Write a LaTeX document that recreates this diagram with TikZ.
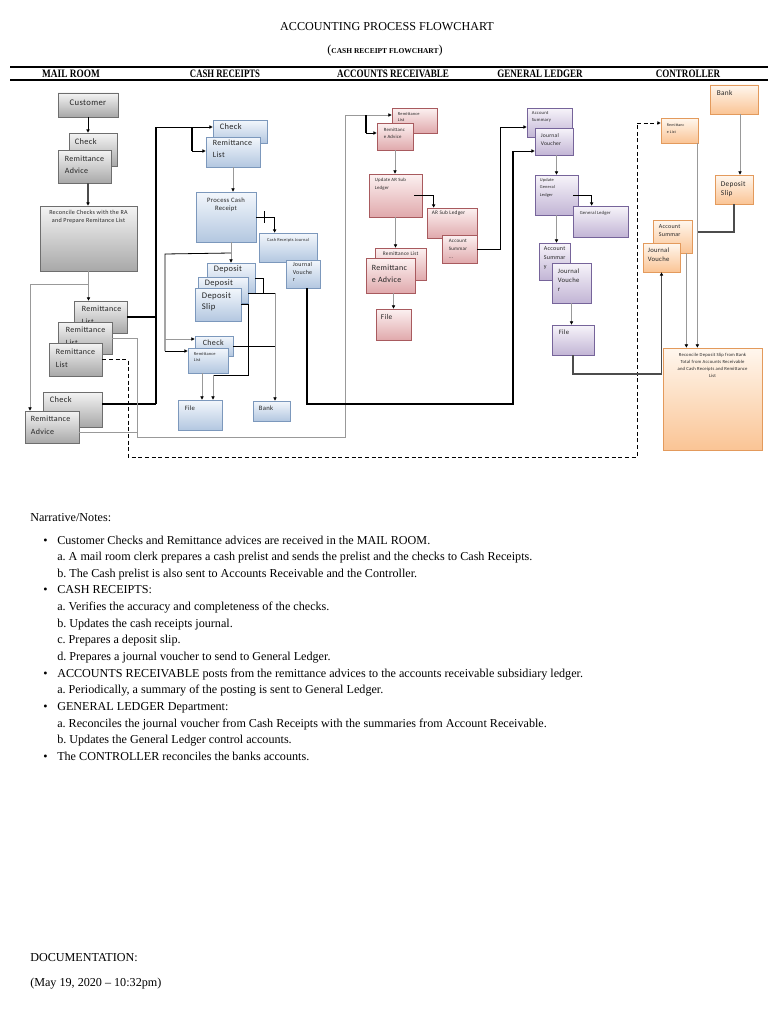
\documentclass[tikz,border=0pt]{standalone}
\usepackage{fontspec}
\setmainfont{Liberation Serif}
\newfontfamily\calf[LetterSpace=4]{Carlito}
\usetikzlibrary{fit,shadows,arrows.meta,calc}
\newcommand\fs[2]{\calf\fontsize{#1}{#2}\selectfont}
\newcommand\bx[7]{\node[#1, fit={(#3)(#4)}, label={[lt,#5]#6:{#7}}] (#2) {};}
\definecolor{gT}{HTML}{F4F4F4}\definecolor{gB}{HTML}{A8A8A8}\definecolor{gD}{HTML}{6E6E6E}
\definecolor{bT}{HTML}{F3F7FC}\definecolor{bB}{HTML}{B3C7E0}\definecolor{bD}{HTML}{7C98BC}
\definecolor{rT}{HTML}{FCF1F1}\definecolor{rB}{HTML}{E0A9AC}\definecolor{rD}{HTML}{A85A5E}
\definecolor{pT}{HTML}{F7F4FA}\definecolor{pB}{HTML}{C2B5D5}\definecolor{pD}{HTML}{76649A}
\definecolor{oT}{HTML}{FFF7EE}\definecolor{oB}{HTML}{FAC495}\definecolor{oD}{HTML}{E39A5C}
\tikzset{
  bxs/.style={draw, line width=0.55pt, inner sep=0pt,
    drop shadow={shadow xshift=0.7pt, shadow yshift=-0.7pt, fill=black, opacity=0.25}},
  gbox/.style={bxs, draw=gD, top color=gT, bottom color=gB},
  bbox/.style={bxs, draw=bD, top color=bT, bottom color=bB},
  rbox/.style={bxs, draw=rD, top color=rT, bottom color=rB},
  pbox/.style={bxs, draw=pD, top color=pT, bottom color=pB},
  obox/.style={bxs, draw=oD, top color=oT, bottom color=oB},
  lt/.style={anchor=north west, inner sep=0pt, align=left, text=black!85},
  ar/.style={-{Triangle[length=2.4pt,width=2.4pt,color=black]}},
  gl/.style={draw=black!40, line width=0.45pt},
  dk/.style={draw=black!70, line width=0.9pt},
  bl/.style={draw=black, line width=0.6pt},
  blt/.style={draw=black, line width=0.9pt},
  tk/.style={draw=black, line width=1.3pt},
  dsh/.style={draw=black, line width=0.6pt, dash pattern=on 3pt off 2pt},
  nt/.style={anchor=base west, inner sep=0pt, font=\fontsize{9.1}{12}\selectfont},
  hd/.style={inner sep=0pt, font=\fontsize{8.5}{10}\selectfont\bfseries},
}
\begin{document}
\begin{tikzpicture}[x=0.75pt,y=-0.75pt]
\useasboundingbox (0,0) rectangle (768,1024);
\fill[white] (0,0) rectangle (768,1024);

% ---------- header ----------
\node[inner sep=0pt, font=\fontsize{9.1}{11}\selectfont] (title) at (387,27) {ACCOUNTING PROCESS FLOWCHART};
\node[inner sep=0pt] (subt) at (385,51) {{\fontsize{9.1}{11}\selectfont(}{\fontsize{5.6}{6}\selectfont\bfseries CASH RECEIPT FLOWCHART}{\fontsize{9.1}{11}\selectfont)}};
\coordinate (h1) at (10,67); \coordinate (h2) at (768,67);
\coordinate (h3) at (10,80); \coordinate (h4) at (768,80);
\draw[line width=1.1pt] (h1) -- (h2);
\draw[line width=1.1pt] (h3) -- (h4);
\node[hd] (hmr) at (71,73.5) {\scalebox{0.82}[1]{MAIL ROOM}};
\node[hd] (hcr) at (225,73.5) {\scalebox{0.77}[1]{CASH RECEIPTS}};
\node[hd] (har) at (393,73.5) {\scalebox{0.8}[1]{ACCOUNTS RECEIVABLE}};
\node[hd] (hgl) at (540,73.5) {\scalebox{0.8}[1]{GENERAL LEDGER}};
\node[hd] (hct) at (688,73.5) {\scalebox{0.8}[1]{CONTROLLER}};

% ---------- mail room ----------
\bx{gbox}{cust}{58,93}{118,117}{anchor=north,align=center,yshift=-5.2pt,font=\fs{6.5}{8}}{north}{Customer}
\bx{gbox}{chkm}{69,133}{117,166}{xshift=4.5pt,yshift=-4.5pt,font=\fs{6.3}{9}}{north west}{Check}
\bx{gbox}{ram}{58,150}{111,183}{xshift=5.2pt,yshift=-4.6pt,font=\fs{6}{9}}{north west}{Remittance\\Advice}
\bx{gbox}{recm}{40,206}{137,271}{anchor=north,align=center,yshift=-2.9pt,font=\fs{4.6}{6}}{north}{Reconcile Checks with the RA\\and Prepare Remitance List}
\bx{gbox}{rl1}{74,301}{127,333}{xshift=6pt,yshift=-3.9pt,font=\fs{6}{9.5}}{north west}{Remittance\\List}
\bx{gbox}{rl2}{58,322}{112,354}{xshift=6pt,yshift=-3.9pt,font=\fs{6}{9.5}}{north west}{Remittance\\List}
\bx{gbox}{rl3}{49,343}{102,376}{xshift=5.2pt,yshift=-4.6pt,font=\fs{6}{9.5}}{north west}{Remittance\\List}
\bx{gbox}{chkm2}{43,392}{102,427}{xshift=5.2pt,yshift=-3.8pt,font=\fs{6.3}{9}}{north west}{Check}
\bx{gbox}{ram2}{25,411}{79,443}{xshift=4.5pt,yshift=-3.9pt,font=\fs{6}{9.75}}{north west}{Remittance\\Advice}

% ---------- cash receipts ----------
\bx{bbox}{chkc}{213,120}{267,143}{xshift=5.2pt,yshift=-3pt,font=\fs{6.3}{9}}{north west}{Check}
\bx{bbox}{rlc}{206,137}{260,167}{xshift=5.2pt,yshift=-2.4pt,font=\fs{6}{9}}{north west}{Remittance\\List}
\bx{bbox}{pcr}{196,192}{256,242}{anchor=north,align=center,yshift=-4.25pt,font=\fs{5}{6}}{north}{Process Cash\\Receipt}
\bx{bbox}{crj}{259,233}{317,262}{anchor=north,align=center,yshift=-4.1pt,font=\fs{3.3}{4}}{north}{Cash Receipts Journal}
\bx{bbox}{jvc}{286,260}{320,288}{xshift=5.2pt,yshift=-2.15pt,font=\fs{4.5}{5.6}}{north west}{Journal\\Vouche\\r}
\bx{bbox}{d1}{207,263}{255,293}{xshift=5.2pt,yshift=-2.3pt,font=\fs{6.3}{8}}{north west}{Deposit}
\bx{bbox}{d2}{198,277}{248,303}{xshift=5.2pt,yshift=-2.3pt,font=\fs{6.3}{8}}{north west}{Deposit}
\bx{bbox}{d3}{195,288}{241,321}{xshift=5.2pt,yshift=-3.7pt,font=\fs{6.5}{8.3}}{north west}{Deposit\\Slip}
\bx{bbox}{chkc2}{195,336}{233,356}{xshift=6pt,yshift=-3.1pt,font=\fs{6}{8}}{north west}{Check}
\bx{bbox}{rlc2}{188,348}{228,373}{xshift=4.5pt,yshift=-3.3pt,font=\fs{3.3}{4.5}}{north west}{Remittance\\List}
\bx{bbox}{filec}{178,400}{222,430}{xshift=5.2pt,yshift=-4.25pt,font=\fs{5}{6}}{north west}{File}
\bx{bbox}{bankc}{253,401}{290,421}{xshift=4.5pt,yshift=-3.5pt,font=\fs{5}{6}}{north west}{Bank}

% ---------- accounts receivable ----------
\bx{rbox}{rla}{392,108}{437,133}{xshift=4.5pt,yshift=-3.3pt,font=\fs{3.3}{5}}{north west}{Remittance\\List}
\bx{rbox}{raa}{377,123}{413,150}{xshift=5.2pt,yshift=-4pt,font=\fs{3.6}{5.3}}{north west}{Remittanc\\e Advice}
\bx{rbox}{uar}{369,174}{422,217}{xshift=4.5pt,yshift=-3.2pt,font=\fs{3.6}{6}}{north west}{Update AR Sub\\Ledger}
\bx{rbox}{arsl}{427,208}{477,238}{xshift=3.75pt,yshift=-2.35pt,font=\fs{4}{5}}{north west}{AR Sub Ledger}
\bx{rbox}{asa}{442,235}{477,263}{xshift=5.2pt,yshift=-3.2pt,font=\fs{3.8}{6}}{north west}{Account\\Summar\\...}
\bx{rbox}{rla2}{375,248}{426,280}{xshift=6pt,yshift=-3.1pt,font=\fs{4}{5}}{north west}{Remittance List}
\bx{rbox}{raa2}{366,258}{415,293}{xshift=4.5pt,yshift=-5.4pt,font=\fs{6}{9}}{north west}{Remittanc\\e Advice}
\bx{rbox}{filea}{376,309}{411,340}{xshift=3.75pt,yshift=-4.1pt,font=\fs{5.5}{6}}{north west}{File}

% ---------- general ledger ----------
\bx{pbox}{asg}{527,108}{572,137}{xshift=3.75pt,yshift=-2.5pt,font=\fs{3.5}{5.3}}{north west}{Account\\Summary}
\bx{pbox}{jvg}{535,128}{573,155}{xshift=4.5pt,yshift=-4.5pt,font=\fs{4.2}{6}}{north west}{Journal\\Voucher}
\bx{pbox}{ugl}{535,175}{578,215}{xshift=3.75pt,yshift=-2.6pt,font=\fs{3.3}{5.6}}{north west}{Update\\General\\Ledger}
\bx{pbox}{genl}{573,206}{628,237}{xshift=5.2pt,yshift=-4pt,font=\fs{3.5}{5}}{north west}{General Ledger}
\bx{pbox}{asg2}{539,243}{570,280}{xshift=3.75pt,yshift=-2.9pt,font=\fs{4.5}{6.8}}{north west}{Account\\Summar\\y}
\bx{pbox}{jvg2}{552,263}{591,303}{xshift=4.5pt,yshift=-4.25pt,font=\fs{5}{6.8}}{north west}{Journal\\Vouche\\r}
\bx{pbox}{fileg}{552,325}{594,355}{xshift=5.2pt,yshift=-3.5pt,font=\fs{5}{6}}{north west}{File}

% ---------- controller ----------
\bx{obox}{bankk}{710,85}{758,114}{xshift=5.2pt,yshift=-4.1pt,font=\fs{5.5}{6}}{north west}{Bank}
\bx{obox}{rlk}{661,118}{698,143}{xshift=4.5pt,yshift=-4.2pt,font=\fs{3}{5.3}}{north west}{Remittanc\\e List}
\bx{obox}{dsk}{715,175}{753,204}{xshift=4.5pt,yshift=-4.85pt,font=\fs{5.5}{6.8}}{north west}{Deposit\\Slip}
\bx{obox}{ask}{653,220}{692,253}{xshift=4.5pt,yshift=-3.65pt,font=\fs{4.5}{6}}{north west}{Account\\Summar}
\bx{obox}{jvk}{643,243}{680,272}{xshift=3.75pt,yshift=-3.5pt,font=\fs{5}{6.8}}{north west}{Journal\\Vouche}
\bx{obox}{reck}{663,348}{762,450}{anchor=north,align=center,yshift=-4pt,font=\fs{3.5}{5.3}}{north}{Reconcile Deposit Slip from Bank\\Total from Accounts Receivable\\and Cash Receipts and Remittance\\List}

% ---------- coordinates ----------
\coordinate (k1) at (88.5,284); \coordinate (k2) at (30,284);
\coordinate (bt) at (156,127); \coordinate (bb) at (156,404);
\coordinate (bs) at (192,127); \coordinate (bs2) at (192,151);
\coordinate (r1) at (137,437); \coordinate (r2) at (345,437); \coordinate (r3) at (345,115);
\coordinate (r4) at (366,115); \coordinate (r5) at (366,133);
\coordinate (s1) at (128,457); \coordinate (s2) at (637,457); \coordinate (s3) at (637,123);
\coordinate (p1) at (231,253); \coordinate (p2) at (165,254); \coordinate (p3) at (165,351); \coordinate (p4) at (165,339);
\coordinate (q1) at (263,293); \coordinate (q2) at (275,293);
\coordinate (q3) at (248,375); \coordinate (q4) at (213,375); \coordinate (q5) at (202,373);
\coordinate (j1) at (307,404); \coordinate (j2) at (440,404); \coordinate (j3) at (513,404); \coordinate (j4) at (513,151);
\coordinate (a1) at (500,127);
\coordinate (g1) at (661.5,374);
\coordinate (t1) at (697,232);
\coordinate (u1) at ([xshift=-0.75pt]rlk.south east);
\coordinate (u2) at ([xshift=-4.5pt]ask.south east);

% ---------- mail room connectors ----------
\draw[bl,ar] (cust.south) -- (cust.south |- chkm.north);
\draw[dk,ar] (ram.south -| cust.south) -- (recm.north -| cust.south);
\draw[gl,ar] (recm.south) -- (recm.south |- rl1.north);
\draw[gl] (k1) -- (k2);
\draw[gl,ar] (k2) -- (k2 |- ram2.north);
\draw[tk] (rl1.east) -- (rl1.east -| bt);
\draw[tk] (bt) -- (bb);
\draw[tk] (chkm2.east |- bb) -- (bb);
\draw[bl,ar] (bt) -- (bt -| chkc.west);
\draw[tk] (bs) -- (bs2);
\draw[bl,ar] (bs2) -- (bs2 -| rlc.west);
\draw[gl] (rl2.east) -| (r1) -- (r2) -- (r3);
\draw[gl] ([yshift=-3.75pt]ram2.east) -- ([yshift=-3.75pt]ram2.east -| r1);
\draw[gl,ar] (r3) -- (r3 -| rla.west);
\draw[blt] (r4) -- (r5);
\draw[bl,ar] (r5) -- (r5 -| raa.west);
\draw[dsh] (rl3.east) -| (s1) -- (s2) -- (s3);
\draw[dsh,ar] (s3) -- (s3 -| rlk.west);

% ---------- cash receipts connectors ----------
\draw[gl,ar] (rlc.south) -- (rlc.south |- pcr.north);
\draw[bl,ar] (pcr.east) -| ($(crj.north west)+(16,0)$);
\draw[bl] ($(pcr.east)+(8,-6)$) -- ++(0,12);
\draw[gl,ar] (d1.north |- pcr.south) -- (d1.north);
\draw[bl] (p1) -- (p2) -- (p3);
\draw[bl,ar] (p3) -- (p3 -| rlc2.west);
\draw[gl,ar] (p4) -- (p4 -| chkc2.west);
\draw[bl] (d1.east) -| (q1);
\draw[bl] (q1 -| d2.east) -- (q2);
\draw[gl,ar] (q2) -- (q2 |- bankc.north);
\draw[bl] (chkc2.east) -- (chkc2.east -| q2);
\draw[bl] (d3.east) -| (q3) -- (q4);
\draw[gl,ar] (q4) -- (q4 |- filec.north);
\draw[gl,ar] (q5) -- (q5 |- filec.north);
\draw[tk] (jvc.south -| j1) -- (j1) -- (j2);
\draw[blt] (j2) -- (j3) -- (j4);
\draw[bl,ar] (j4) -- (j4 -| jvg.west);

% ---------- accounts receivable connectors ----------
\draw[gl,ar] (raa.south) -- (raa.south |- uar.north);
\draw[bl,ar] ($(uar.east)+(-8,0)$) -| ($(arsl.north west)+(7,0)$);
\draw[gl,ar] (uar.south) -- (uar.south |- rla2.north);
\draw[bl] (asa.east) -| (a1);
\draw[bl,ar] (a1) -- (a1 -| asg.west);
\draw[gl,ar] (filea.north |- raa2.south) -- (filea.north);

% ---------- general ledger connectors ----------
\draw[gl,ar] (ugl.north |- jvg.south) -- (ugl.north);
\draw[bl,ar] ($(ugl.east)+(-5,0)$) -| ($(genl.north west)+(19,0)$);
\draw[gl,ar] (ugl.south) -- (ugl.south |- asg2.north);
\draw[gl,ar] (jvg2.south) -- (jvg2.south |- fileg.north);
\draw[dk] (fileg.south) |- (g1);
\draw[dk,ar] (g1) -- (jvk.south);

% ---------- controller connectors ----------
\draw[gl,ar] ([xshift=4.5pt]bankk.south) -- ([xshift=4.5pt]dsk.north);
\draw[dk] (dsk.south) |- (t1);
\draw[gl,ar] (u1) -- (u1 |- reck.north);
\draw[gl,ar] (u2) -- (u2 |- reck.north);

% ---------- notes ----------
\node[nt] (nn) at (30,521) {Narrative/Notes:};
\node[nt] (b1) at (43,544) {•};
\node[nt] (n1) at (57,544) {Customer Checks and Remittance advices are received in the MAIL ROOM.};
\node[nt] (n2) at (57,560.65) {a.\ A mail room clerk prepares a cash prelist and sends the prelist and the checks to Cash Receipts.};
\node[nt] (n3) at (57,577.3) {b.\ The Cash prelist is also sent to Accounts Receivable and the Controller.};
\node[nt] (b2) at (43,593.95) {•};
\node[nt] (n4) at (57,593.95) {CASH RECEIPTS:};
\node[nt] (n5) at (57,610.6) {a.\ Verifies the accuracy and completeness of the checks.};
\node[nt] (n6) at (57,627.25) {b.\ Updates the cash receipts journal.};
\node[nt] (n7) at (57,643.9) {c.\ Prepares a deposit slip.};
\node[nt] (n8) at (57,660.55) {d.\ Prepares a journal voucher to send to General Ledger.};
\node[nt] (b3) at (43,677.2) {•};
\node[nt] (n9) at (57,677.2) {ACCOUNTS RECEIVABLE posts from the remittance advices to the accounts receivable subsidiary ledger.};
\node[nt] (n10) at (57,693.85) {a.\ Periodically, a summary of the posting is sent to General Ledger.};
\node[nt] (b4) at (43,710.5) {•};
\node[nt] (n11) at (57,710.5) {GENERAL LEDGER Department:};
\node[nt] (n12) at (57,727.15) {a.\ Reconciles the journal voucher from Cash Receipts with the summaries from Account Receivable.};
\node[nt] (n13) at (57,743.8) {b.\ Updates the General Ledger control accounts.};
\node[nt] (b5) at (43,760.45) {•};
\node[nt] (n14) at (57,760.45) {The CONTROLLER reconciles the banks accounts.};
\node[nt] (doc) at (30,961) {DOCUMENTATION:};
\node[nt] (date) at (30,986) {(May 19, 2020 – 10:32pm)};
\end{tikzpicture}
\end{document}
